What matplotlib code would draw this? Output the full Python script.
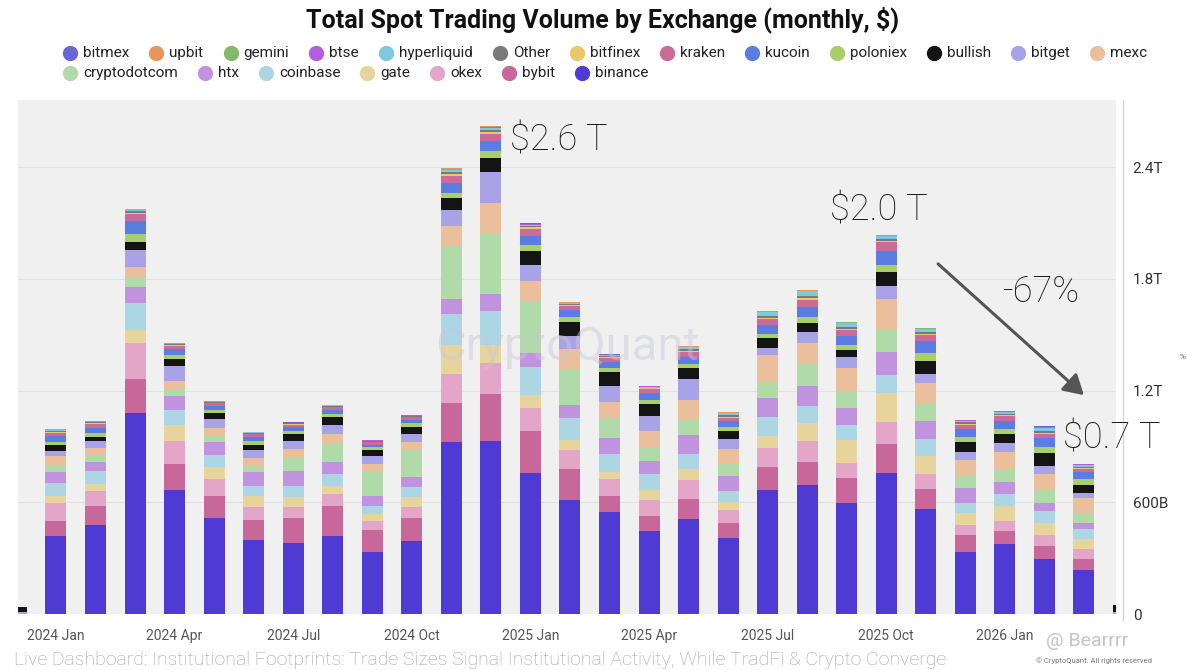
import numpy as np
import matplotlib
matplotlib.use("Agg")
import matplotlib.pyplot as plt
from matplotlib.lines import Line2D
from matplotlib.patches import FancyArrowPatch

plt.rcParams['font.family'] = ['Roboto', 'DejaVu Sans']

# monthly buckets, 2023 Dec .. 2026 Apr (values in $B)
months = ['2023 Dec', '2024 Jan', '2024 Feb', '2024 Mar', '2024 Apr', '2024 May', '2024 Jun',
          '2024 Jul', '2024 Aug', '2024 Sep', '2024 Oct', '2024 Nov', '2024 Dec',
          '2025 Jan', '2025 Feb', '2025 Mar', '2025 Apr', '2025 May', '2025 Jun',
          '2025 Jul', '2025 Aug', '2025 Sep', '2025 Oct', '2025 Nov', '2025 Dec',
          '2026 Jan', '2026 Feb', '2026 Mar', '2026 Apr']
tick_months = ['2024 Jan', '2024 Apr', '2024 Jul', '2024 Oct', '2025 Jan',
               '2025 Apr', '2025 Jul', '2025 Oct', '2026 Jan']

binance = [0, 417, 478, 1078, 668, 516, 399, 379, 421, 331, 394, 922, 929, 755, 612, 550, 446, 508, 406, 666, 693, 594, 755, 564, 331, 376, 294, 236, 0]
bybit = [0, 84, 100, 184, 138, 120, 107, 134, 158, 122, 120, 209, 251, 227, 166, 81, 81, 107, 81, 122, 122, 134, 156, 106, 93, 70, 72, 57, 0]
okex = [0, 95, 81, 193, 125, 90, 66, 59, 66, 48, 59, 158, 170, 125, 102, 93, 86, 104, 72, 102, 115, 81, 122, 82, 54, 54, 59, 54, 0]
gate = [0, 39, 39, 70, 84, 66, 59, 57, 41, 36, 54, 156, 95, 68, 54, 41, 54, 57, 45, 66, 98, 125, 156, 97, 63, 81, 63, 54, 0]
coinbase = [0, 68, 72, 145, 81, 64, 57, 59, 66, 45, 57, 165, 183, 152, 116, 93, 84, 81, 54, 100, 91, 81, 95, 90, 54, 63, 63, 54, 0]
htx = [0, 57, 48, 84, 72, 66, 72, 79, 63, 50, 50, 82, 91, 77, 72, 86, 68, 104, 84, 102, 107, 93, 124, 98, 81, 63, 45, 36, 0]
cryptodotcom = [0, 41, 36, 50, 41, 39, 36, 73, 102, 138, 147, 285, 320, 276, 188, 107, 77, 81, 63, 86, 115, 90, 118, 98, 63, 72, 68, 54, 0]
mexc = [0, 48, 36, 57, 41, 36, 39, 45, 48, 36, 45, 104, 166, 109, 111, 90, 84, 107, 81, 147, 116, 125, 165, 104, 90, 90, 88, 77, 0]
bitget = [10, 27, 38, 93, 79, 50, 45, 45, 50, 45, 41, 86, 166, 84, 72, 81, 81, 111, 54, 39, 59, 55, 68, 50, 41, 50, 45, 27, 12]
bullish = [30, 30, 20, 45, 41, 30, 27, 36, 41, 30, 39, 66, 79, 77, 77, 75, 66, 59, 45, 50, 45, 39, 75, 72, 52, 48, 68, 45, 35]
poloniex = [0, 18, 23, 41, 21, 18, 23, 18, 18, 14, 18, 27, 38, 34, 27, 23, 23, 23, 18, 21, 36, 27, 38, 39, 29, 27, 30, 30, 0]
kucoin = [0, 32, 30, 72, 32, 23, 23, 21, 23, 14, 18, 54, 52, 47, 36, 32, 36, 39, 32, 50, 50, 48, 79, 68, 43, 45, 50, 36, 0]
kraken = [0, 18, 18, 36, 18, 13, 13, 11, 13, 13, 14, 39, 38, 39, 21, 21, 21, 27, 18, 32, 39, 32, 45, 30, 23, 23, 21, 18, 0]
bitfinex = [0, 5, 5, 7, 4, 3, 3, 3, 4, 3, 3, 9, 9, 6, 5, 5, 4, 6, 6, 8, 9, 8, 7, 7, 5, 6, 7, 5, 0]
other = [0, 6, 6, 9, 5, 5, 5, 5, 5, 5, 5, 13, 13, 8, 6, 6, 5, 8, 8, 10, 12, 10, 10, 9, 7, 8, 10, 7, 0]
hyperliquid = [0, 2, 2, 3, 1, 1, 1, 1, 1, 1, 1, 8, 10, 7, 5, 5, 5, 11, 11, 20, 25, 20, 17, 16, 10, 11, 17, 12, 0]
btse = [0, 1, 1, 2, 1, 1, 1, 1, 1, 1, 1, 3, 3, 2, 1, 1, 1, 1, 1, 2, 2, 2, 2, 2, 1, 1, 2, 1, 0]
gemini = [0, 1, 1, 2, 1, 1, 1, 1, 1, 1, 1, 3, 3, 1, 1, 1, 1, 1, 1, 2, 2, 2, 2, 2, 1, 1, 2, 1, 0]
upbit = [0, 2, 2, 3, 1, 1, 1, 1, 1, 1, 1, 4, 4, 2, 2, 2, 1, 2, 2, 2, 3, 2, 2, 2, 2, 2, 2, 2, 0]
bitmex = [0, 1, 1, 1, 1, 1, 1, 1, 1, 1, 1, 1, 1, 1, 1, 1, 1, 1, 1, 1, 1, 1, 1, 1, 1, 1, 1, 1, 0]

# bottom -> top
stack = [('binance', binance, '#4f3bd4'), ('bybit', bybit, '#c8689a'),
         ('okex', okex, '#e3a6c8'), ('gate', gate, '#e6d49c'),
         ('coinbase', coinbase, '#acd6e4'), ('htx', htx, '#c193de'),
         ('cryptodotcom', cryptodotcom, '#b0dba8'), ('mexc', mexc, '#ebbe9c'),
         ('bitget', bitget, '#aaa2e6'), ('bullish', bullish, '#141414'),
         ('poloniex', poloniex, '#a9cf6b'), ('kucoin', kucoin, '#5b7de2'),
         ('kraken', kraken, '#cc6a99'), ('bitfinex', bitfinex, '#e9c96b'),
         ('Other', other, '#7a7a7a'), ('hyperliquid', hyperliquid, '#7ec8e0'),
         ('btse', btse, '#b45ddf'), ('gemini', gemini, '#84b86a'),
         ('upbit', upbit, '#e8955a'), ('bitmex', bitmex, '#6c63d8')]

W, H = 1187, 670
fig = plt.figure(figsize=(W / 100, H / 100), dpi=100)
fig.patch.set_facecolor('white')

def fx(px):
    return px / W

def fy(py):
    return 1 - py / H

ax = fig.add_axes([fx(18), fy(614), fx(1116) - fx(18), fy(100) - fy(614)])
ax.set_facecolor('#f0f0f0')

x = np.arange(len(months))
bottom = np.zeros(len(months))
for name, vals, col in stack:
    vals = np.array(vals, dtype=float)
    ax.bar(x, vals, bottom=bottom, width=0.53, color=col, linewidth=0, zorder=3)
    bottom += vals

ax.set_xlim(0.04, 27.81)
ax.set_ylim(0, 2760)
ax.set_yticks([0, 600, 1200, 1800, 2400])
ax.set_yticklabels(['0', '600B', '1.2T', '1.8T', '2.4T'])
ax.yaxis.tick_right()
ax.tick_params(axis='y', length=0, pad=12, labelsize=11, labelcolor='#333333')
ax.set_xticks([months.index(m) for m in tick_months])
ax.set_xticklabels(tick_months)
ax.tick_params(axis='x', length=0, pad=11, labelsize=10, labelcolor='#555555')
ax.grid(axis='y', color='#e2e2e2', linewidth=0.8, zorder=0)
for s in ax.spines.values():
    s.set_visible(False)

# right axis line
fig.add_artist(Line2D([fx(1123), fx(1123)], [fy(100), fy(620)], color='#d6d6d6', lw=1))

# watermark
ax.text(0.5, 0.52, 'CryptoQuant', transform=ax.transAxes, fontsize=34,
        color='#c8c8d6', alpha=0.45, ha='center', va='center', zorder=5)

# title
fig.text(fx(603), fy(20), 'Total Spot Trading Volume by Exchange (monthly, $)',
         ha='center', va='center', fontsize=18, fontweight='bold', color='#111111')

# legend, flow layout
rows = [['bitmex', 'upbit', 'gemini', 'btse', 'hyperliquid', 'Other', 'bitfinex',
         'kraken', 'kucoin', 'poloniex', 'bullish', 'bitget', 'mexc'],
        ['cryptodotcom', 'htx', 'coinbase', 'gate', 'okex', 'bybit', 'binance']]
colors = {name: col for name, _, col in stack}
renderer = fig.canvas.get_renderer()
for row, ypx in zip(rows, [53, 73]):
    xpx = 70
    for name in row:
        fig.add_artist(Line2D([fx(xpx)], [fy(ypx)], marker='o', markersize=10,
                              color=colors[name], linestyle='none'))
        t = fig.text(fx(xpx + 13), fy(ypx), name, fontsize=11, color='#222222',
                     ha='left', va='center')
        w = t.get_window_extent(renderer).width
        xpx = xpx + 13 + w + 27

# annotations
ann = dict(fontsize=26, fontweight='light', color='#1a1a1a', va='center', ha='left')
fig.text(fx(510), fy(140), '$2.6 T', **ann)
fig.text(fx(830), fy(210), '$2.0 T', **ann)
fig.text(fx(1003), fy(292), '-67%', **ann)
fig.text(fx(1063), fy(438), '$0.7 T', **ann)
fig.add_artist(FancyArrowPatch(
    (fx(936), fy(262)), (fx(1086), fy(397)), transform=fig.transFigure,
    arrowstyle='-|>,head_length=12,head_width=7', mutation_scale=1,
    color='#555555', lw=2.2))
fig.text(fx(1183), fy(357), '%', fontsize=6, color='#555555', ha='center', va='center')

# footer
fig.text(fx(14), fy(651), 'Live Dashboard: Institutional Footprints: Trade Sizes Signal '
         'Institutional Activity, While TradFi & Crypto Converge',
         fontsize=14, fontweight='light', color='#a0a0a0', ha='left', va='top')
fig.text(fx(1046), fy(641), '@ Bearrrr', fontsize=14, color='#c4c4c4', ha='left', va='center')
fig.text(fx(1036), fy(661), '© CryptoQuant. All rights reserved', fontsize=5.5,
         color='#777777', ha='left', va='center')

fig.savefig('out.png', dpi=100)
